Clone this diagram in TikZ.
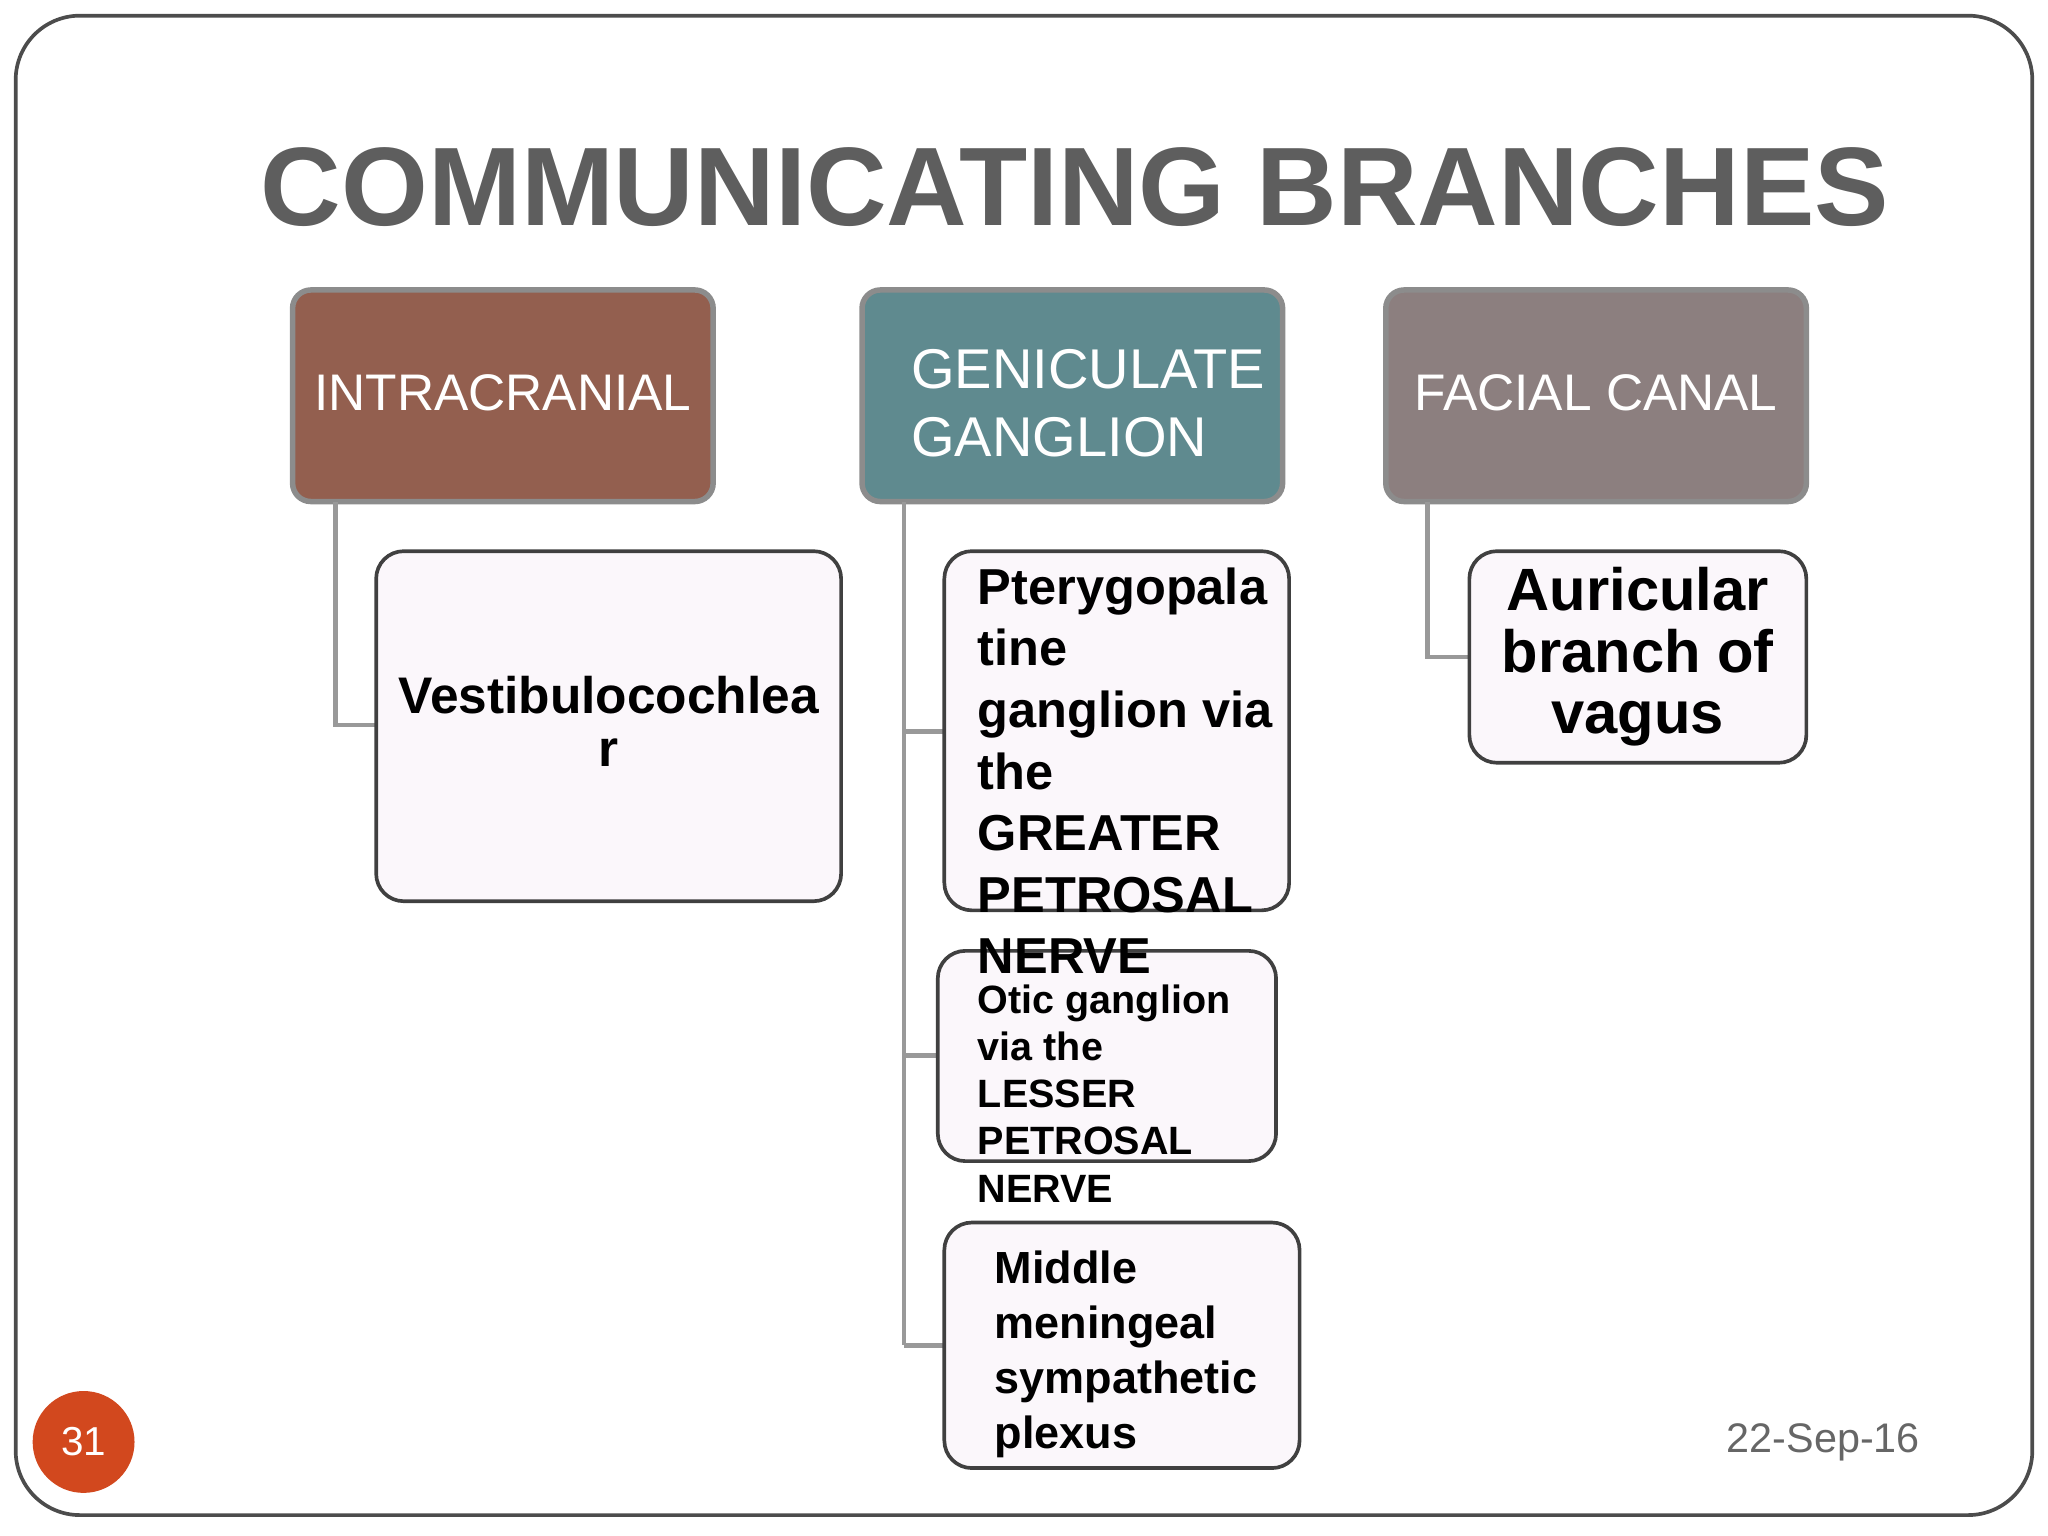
\documentclass[tikz,border=0pt]{standalone}
\usepackage{fontspec}
\setmainfont{Liberation Sans}
\definecolor{hbrown}{HTML}{935F4F}
\definecolor{hteal}{HTML}{5F8A8F}
\definecolor{hgray}{HTML}{8C7F7F}
\definecolor{pnred}{HTML}{D2481E}
\begin{document}
\begin{tikzpicture}[x={(0.01cm,0)},y={(0,-0.01cm)},
  head/.style={draw=black!45,line width=1.2pt,rounded corners=4pt},
  kid/.style={draw=black!75,line width=0.8pt,rounded corners=6pt,fill=white!97!violet},
  con/.style={draw=black!40,line width=1pt}]
\useasboundingbox (0,0) rectangle (1568,1176);
\draw[black!70,line width=0.8pt,rounded corners=14pt] (12,12) rectangle (1556,1160);
\node[text=black!63,font=\bfseries\fontsize{24.3}{28}\selectfont] (title) at (823,143) {COMMUNICATING BRANCHES};
% headers
\draw[head,fill=hbrown] (224,222) rectangle (546,384);
\node[text=white,font=\fontsize{11.2}{13.5}\selectfont] (h1) at (385,301) {INTRACRANIAL};
\draw[head,fill=hteal] (660,222) rectangle (982,384);
\node[text=white,font=\fontsize{12.2}{14.8}\selectfont,align=left,anchor=west,inner sep=0pt] (h2) at (697,309) {GENICULATE\\GANGLION};
\draw[head,fill=hgray] (1061,222) rectangle (1383,384);
\node[text=white,font=\fontsize{11.2}{13.5}\selectfont] (h3) at (1222,301) {FACIAL CANAL};
% connectors
\draw[con] (257,384) |- (288,555);
\draw[con] (692,384) -- (692,1030);
\draw[con] (692,560) -- (723,560);
\draw[con] (692,808) -- (718,808);
\draw[con] (692,1030) -- (723,1030);
\draw[con] (1093,384) |- (1125,503);
% children boxes
\draw[kid] (288,422) rectangle (644,690);
\draw[kid] (723,422) rectangle (987,697);
\draw[kid] (718,728) rectangle (977,889);
\draw[kid] (723,936) rectangle (995,1124);
\draw[kid] (1125,422) rectangle (1383,584);
% children texts
\node[font=\bfseries\fontsize{11.2}{11.5}\selectfont,align=center] (c1) at (466,552) {Vestibulocochlea\\r};
\node[font=\bfseries\fontsize{11}{13.4}\selectfont,align=left,anchor=north west,inner sep=0pt] (c2) at (748,434) {Pterygopala\\tine\\ganglion via\\the\\GREATER\\PETROSAL\\NERVE};
\node[font=\bfseries\fontsize{8.6}{10.3}\selectfont,align=left,anchor=north west,inner sep=0pt] (c3) at (748,753) {Otic ganglion\\via the\\LESSER\\PETROSAL\\NERVE};
\node[font=\bfseries\fontsize{9.8}{12}\selectfont,align=left,anchor=north west,inner sep=0pt] (c4) at (761,957) {Middle\\meningeal\\sympathetic\\plexus};
\node[font=\bfseries\fontsize{13}{13.4}\selectfont,align=center] (c5) at (1254,503) {Auricular\\branch of\\vagus};
% footer
\node[circle,fill=pnred,minimum size=78*0.01cm,inner sep=0pt,text=white,font=\fontsize{8.8}{10}\selectfont] (pn) at (64,1104) {31};
\node[text=black!60,font=\fontsize{9}{10}\selectfont] (date) at (1396,1104) {22-Sep-16};
\end{tikzpicture}
\end{document}
